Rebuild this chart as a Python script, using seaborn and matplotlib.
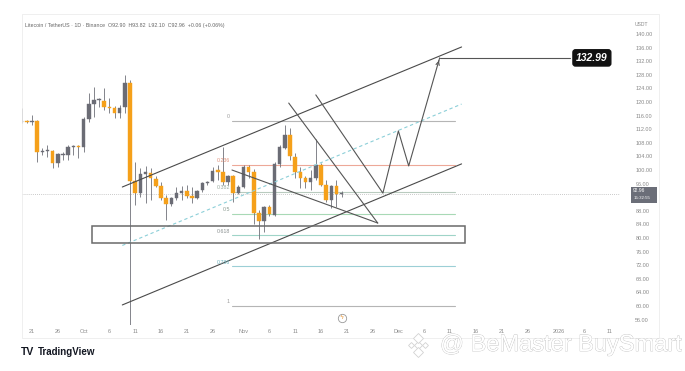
import matplotlib
matplotlib.use("Agg")
import matplotlib.pyplot as plt
import matplotlib.dates as mdates
import matplotlib.patheffects as pe
import matplotlib.transforms as mtrans
from matplotlib.patches import Rectangle
import seaborn as sns
import pandas as pd
import numpy as np

sns.set_theme(style="white")
plt.rcParams["font.family"] = ["Liberation Sans", "DejaVu Sans"]

# LTC/USDT daily candles
dates = pd.date_range("2025-09-19", "2025-11-20", freq="D")
opens = [114.1, 114.3, 114.0, 114.3, 105.3, 105.5, 105.6, 102.1, 104.3, 104.4, 106.8, 106.9,
         106.8, 115.0, 119.4, 120.6, 120.3, 118.5, 118.2, 116.8, 118.5, 125.6,
         96.8, 93.2, 98.8, 99.1, 97.4, 95.3, 91.8, 90.0, 91.8, 93.2, 93.8, 92.4, 91.8, 94.1,
         96.2, 96.8, 100.0, 99.4, 96.5, 98.2, 93.2,
         95.0, 100.9, 99.4, 87.4, 85.0, 89.1, 86.8, 101.8, 106.5, 110.3, 103.8, 99.4, 97.6,
         96.5, 97.6, 101.5, 95.6, 91.2, 95.3, 92.90]
highs = [118.2, 114.8, 116.2, 114.6, 106.5, 107.4, 105.9, 105.0, 105.3, 107.4, 107.4, 107.4,
         115.6, 122.6, 124.4, 121.2, 124.1, 121.2, 118.8, 119.1, 127.9, 126.5,
         102.4, 100.6, 101.2, 100.6, 98.2, 96.5, 92.6, 92.1, 95.0, 95.3, 95.6, 95.0, 94.1, 96.5,
         96.8, 100.9, 101.5, 106.8, 98.5, 98.5, 95.6,
         101.5, 101.5, 100.3, 88.2, 89.4, 89.7, 102.4, 107.4, 113.2, 112.4, 105.0, 100.9, 98.2,
         100.0, 109.1, 102.1, 97.1, 95.6, 97.1, 93.82]
lows = [113.8, 113.8, 113.2, 102.4, 104.4, 103.8, 100.6, 100.9, 102.9, 102.9, 104.4, 103.5,
        105.3, 114.1, 115.6, 118.5, 117.6, 116.8, 115.3, 115.3, 116.8, 53.8,
        89.7, 92.1, 90.3, 91.2, 95.0, 91.2, 85.3, 89.4, 91.2, 91.2, 91.8, 90.3, 91.5, 93.5,
        95.6, 96.5, 97.1, 95.6, 95.6, 90.6, 92.9,
        94.7, 97.6, 84.1, 79.7, 81.8, 86.5, 86.5, 100.9, 106.2, 102.9, 97.6, 94.7, 94.7,
        94.1, 97.1, 95.3, 90.6, 88.8, 89.1, 92.10]
closes = [114.3, 114.0, 114.3, 105.3, 105.5, 105.9, 102.1, 104.7, 104.6, 106.8, 106.9, 106.8,
          115.0, 119.4, 120.6, 120.7, 118.5, 118.2, 116.8, 118.2, 125.6, 96.8,
          93.2, 98.8, 99.4, 97.6, 95.3, 91.8, 90.0, 91.8, 93.2, 93.8, 92.4, 91.8, 93.8, 96.2,
          96.5, 99.7, 99.4, 96.5, 98.2, 93.2, 95.0,
          100.9, 99.4, 87.4, 85.0, 89.1, 87.1, 101.8, 106.8, 110.3, 104.1, 99.4, 97.6, 96.5,
          97.6, 101.5, 95.6, 91.2, 95.3, 92.9, 92.96]

header = ("Litecoin / TetherUS \u00b7 1D \u00b7 Binance  O92.90  H93.82  L92.10  "
          "C92.96  +0.06 (+0.06%)")
last_price = 92.96
countdown = "15:32:55"
target_price = 132.99

price_ticks = [v for v in range(56, 141, 4) if abs(v - last_price) > 2.5]
tick_dates = ["2025-09-21", "2025-09-26", "2025-10-01", "2025-10-06", "2025-10-11",
              "2025-10-16", "2025-10-21", "2025-10-26", "2025-11-01", "2025-11-06",
              "2025-11-11", "2025-11-16", "2025-11-21", "2025-11-26", "2025-12-01",
              "2025-12-06", "2025-12-11", "2025-12-16", "2025-12-21", "2025-12-26",
              "2026-01-01", "2026-01-06", "2026-01-11"]
tick_labels = ["21", "26", "Oct", "6", "11", "16", "21", "26", "Nov", "6", "11", "16",
               "21", "26", "Dec", "6", "11", "16", "21", "26", "2026", "6", "11"]

# drawing anchors (date, price)
upper_channel = [("2025-10-08 12:00", 95.0), ("2025-12-13 06:00", 136.2)]
lower_channel = [("2025-10-08 12:00", 60.3), ("2025-12-13 06:00", 101.8)]
mid_channel = [("2025-10-08 12:00", 77.8), ("2025-12-13 06:00", 119.4)]
wedge_lower = [("2025-10-29 18:00", 100.0), ("2025-11-27 00:00", 84.4)]
wedge_upper = [("2025-11-09 18:00", 119.7), ("2025-11-27 00:00", 84.4)]
projection = [("2025-11-15 00:00", 122.1), ("2025-11-28 00:00", 93.2),
              ("2025-12-01 00:00", 111.5), ("2025-12-03 00:00", 101.2),
              ("2025-12-09 00:00", 132.99)]
target_line = [("2025-12-09 00:00", 132.99), ("2026-01-03 06:00", 132.99)]
target_label_date = "2026-01-07 12:00"
fib_dates = ["2025-10-29 18:00", "2025-12-12 00:00"]
fib_top, fib_bottom = 114.4, 60.0
fib_ratios = [0, 0.236, 0.382, 0.5, 0.618, 0.786, 1]
fib_line_colors = ["#b5b5b5", "#eda898", "#b9cbbf", "#a8d9b6", "#9fd4c8", "#9ccfd6", "#b5b5b5"]
fib_text_colors = ["#9a9a9a", "#e0907a", "#98aa9e", "#8a9a90", "#8a9090", "#6ab0ba", "#9a9a9a"]
box_dates = ["2025-10-02 15:00", "2025-12-14 00:00"]
box_prices = [78.5, 83.5]
event_date = "2025-11-20"

UP, DOWN, WICK = "#6b6c75", "#f5a01a", "#6f7079"


def to_num(d):
    return mdates.date2num(pd.to_datetime(pd.Series(d), format="mixed"))


def xy(points):
    d, p = zip(*points)
    return to_num(list(d)), np.array(p, dtype=float)


W, H = 685, 371
fig = plt.figure(figsize=(W / 100, H / 100), dpi=100)
fig.patch.set_facecolor("white")
ax = fig.add_axes([22 / W, (H - 325) / H, 598 / W, 311 / H])
ax.set_facecolor("none")

x0 = mdates.date2num(pd.Timestamp("2025-09-21"))
ax.set_xlim(x0 - 1.94, x0 + 113.95)
ax.set_ylim(54.4, 145.9)

df = pd.DataFrame(dict(date=dates, open=opens, high=highs, low=lows, close=closes))
df["x"] = mdates.date2num(df["date"])
colors = np.where(df["close"] >= df["open"], UP, DOWN)
ax.vlines(df["x"], df["low"], df["high"], color=WICK, lw=0.6, zorder=3)
bottom = np.minimum(df["open"], df["close"])
height = np.maximum((df["close"] - df["open"]).abs(), 0.3)
ax.bar(df["x"], height, bottom=bottom, width=0.68, color=colors, edgecolor=colors,
       lw=0.3, zorder=4)

# last price dotted line
ax.axhline(last_price, color="#b8b8b8", lw=0.6, ls=(0, (1, 1.5)), zorder=1)

# channel
for pts, col, ls in [(upper_channel, "#4a4a4a", "-"), (lower_channel, "#4a4a4a", "-"),
                     (mid_channel, "#8ccfd8", (0, (3, 2.5)))]:
    xs, ys = xy(pts)
    sns.lineplot(x=xs, y=ys, ax=ax, color=col, lw=0.8, ls=ls, sort=False,
                 estimator=None, zorder=5)

# falling wedge
for pts in (wedge_lower, wedge_upper):
    xs, ys = xy(pts)
    sns.lineplot(x=xs, y=ys, ax=ax, color="#555555", lw=0.8, sort=False,
                 estimator=None, zorder=5)

# projection path + target
xs, ys = xy(projection)
sns.lineplot(x=xs, y=ys, ax=ax, color="#555555", lw=0.8, sort=False, estimator=None,
             zorder=5)
ax.annotate("", xy=(xs[-1], ys[-1]), xytext=(xs[-1] - 0.3, ys[-1] - 1.6),
            arrowprops=dict(arrowstyle="->", color="#555555", lw=0.8,
                            mutation_scale=6), zorder=6)
tx, ty = xy(target_line)
ax.plot(tx, ty, color="#555555", lw=0.8, zorder=5)
ax.text(to_num([target_label_date])[0], target_price,
        f"{target_price:.2f}", ha="center", va="center", color="white",
        fontweight="bold", fontstyle="italic", fontsize=7.5, zorder=7,
        bbox=dict(boxstyle="round,pad=0.3,rounding_size=0.25", fc="#111111",
                  ec="#111111"))

# fib retracement
fx = to_num(fib_dates)
for r, lc, tc in zip(fib_ratios, fib_line_colors, fib_text_colors):
    level = fib_top - r * (fib_top - fib_bottom)
    ax.plot(fx, [level, level], color=lc, lw=0.8, zorder=2)
    lab = "0" if r == 0 else ("1" if r == 1 else f"{r:g}")
    ax.annotate(lab, xy=(fx[0], level), xytext=(-1.5, 1.2), textcoords="offset points",
                ha="right", va="bottom", fontsize=3.8, color=tc, zorder=6)

# support box
bx = to_num(box_dates)
ax.add_patch(Rectangle((bx[0], box_prices[0]), bx[1] - bx[0], box_prices[1] - box_prices[0],
                       fill=False, ec="#6a6a6a", lw=1.1, zorder=5))

# event icon
ex = to_num([event_date])[0]
blend = mtrans.blended_transform_factory(ax.transData, ax.transAxes)
ax.plot([ex], [0.023], marker="o", ms=6, mfc="white", mec="#9a9a9a", mew=0.6,
        transform=blend, clip_on=False, zorder=6)
ax.text(ex, 0.023, "\u03df", transform=blend, ha="center", va="center", fontsize=4.5,
        color="#e8902a", family="DejaVu Sans", zorder=7)

# axes styling
for s in ax.spines.values():
    s.set_visible(False)
ax.grid(False)
ax.yaxis.tick_right()
ax.set_yticks(price_ticks)
ax.set_yticklabels([f"{v:.2f}" for v in price_ticks])
ax.tick_params(axis="y", length=0, pad=11, labelsize=4, labelcolor="#8a8a8a")
ax.set_xticks(to_num(tick_dates))
ax.set_xticklabels(tick_labels)
ax.tick_params(axis="x", length=0, pad=3, labelsize=4, labelcolor="#8a8a8a")
ax.set_xlabel("")
ax.set_ylabel("")

# last price tag on the price scale
yblend = mtrans.blended_transform_factory(ax.transAxes, ax.transData)
ax.add_patch(Rectangle((1.0183, last_price - 2.55), 0.0435, 4.7, transform=yblend,
                       fc="#6b6e78", ec="none", clip_on=False, zorder=8))
ax.text(1.022, last_price + 0.95, f"{last_price:.2f}", transform=yblend, fontsize=3.5,
        color="white", va="center", ha="left", zorder=9)
ax.text(1.022, last_price - 1.3, countdown, transform=yblend, fontsize=3.2,
        color="white", va="center", ha="left", zorder=9)

# overlay for frame, header and logos (pixel coordinates)
ov = fig.add_axes([0, 0, 1, 1])
ov.set_xlim(0, W)
ov.set_ylim(H, 0)
ov.axis("off")
ov.patch.set_alpha(0)
ov.add_patch(Rectangle((22, 14), 637, 324, fill=False, ec="#ececec", lw=0.6))
ov.text(25, 26, header, fontsize=3.8, color="#666666", va="center", ha="left")
ov.text(641, 25, "USDT", fontsize=3.6, color="#8a8a8a", va="center", ha="center")
ov.text(21, 352, "TV", fontsize=7.5, fontweight="heavy", color="#131722", va="center",
        ha="left")
ov.text(38, 352, "TradingView", fontsize=7, fontweight="bold", color="#131722",
        va="center", ha="left")
# binance diamond logo
for dx, dy, ms in [(0, 0, 4), (-7, 0, 3), (7, 0, 3), (0, -7, 5), (0, 7, 5)]:
    ov.plot([418 + dx], [345 + dy], marker="D", ms=ms, mfc="white", mec="#d2d2d2", mew=0.6)
ov.text(440, 345, "@ BeMaster BuySmart", fontsize=17, color="white", va="center",
        ha="left", path_effects=[pe.withStroke(linewidth=0.5, foreground="#bdbdbd")])

fig.savefig("out.png", dpi=100, facecolor="white")
